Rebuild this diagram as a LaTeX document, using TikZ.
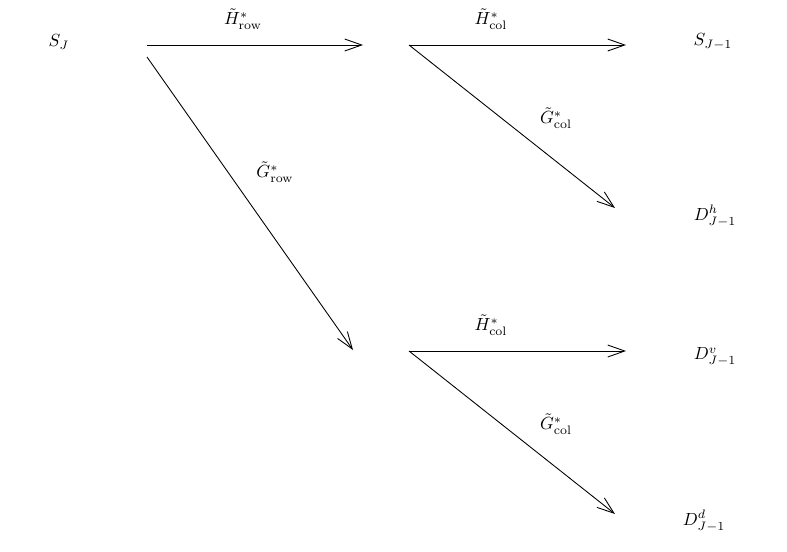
\documentclass[tikz,border=0pt]{standalone}
\usetikzlibrary{arrows.meta}
\begin{document}
\begin{tikzpicture}[x=0.02cm,y=-0.02cm,
  lbl/.style={inner sep=0pt},
  arr/.style={line width=0.5pt,-{Straight Barb[length=3.4mm,width=2.4mm]}}]
\useasboundingbox (0,0) rectangle (787,551);
% labels
\node[lbl] (sj) at (59,42) {$S_J$};
\node[lbl] (sj1) at (713,42) {$S_{J-1}$};
\node[lbl] (dh) at (715,216) {$D^h_{J-1}$};
\node[lbl] (dv) at (715,357) {$D^v_{J-1}$};
\node[lbl] (dd) at (704,521) {$D^d_{J-1}$};
% arrow end points
\coordinate (a0) at (147,45);
\coordinate (a1) at (363,45);
\coordinate (b0) at (147,57);
\coordinate (b1) at (353,350);
\coordinate (c0) at (409,45);
\coordinate (c1) at (626,45);
\coordinate (c2) at (615,208);
\coordinate (d0) at (409,351);
\coordinate (d1) at (626,351);
\coordinate (d2) at (615,514);
% arrows
\draw[arr] (a0) -- (a1);
\draw[arr] (b0) -- (b1);
\draw[arr] (c0) -- (c1);
\draw[arr] (c0) -- (c2);
\draw[arr] (d0) -- (d1);
\draw[arr] (d0) -- (d2);
% arrow labels
\node[lbl] (hrow) at (243,19) {$\tilde{H}^*_{\mathrm{row}}$};
\node[lbl] (grow) at (275,172) {$\tilde{G}^*_{\mathrm{row}}$};
\node[lbl] (hcol1) at (491,19) {$\tilde{H}^*_{\mathrm{col}}$};
\node[lbl] (gcol1) at (556,118) {$\tilde{G}^*_{\mathrm{col}}$};
\node[lbl] (hcol2) at (491,325) {$\tilde{H}^*_{\mathrm{col}}$};
\node[lbl] (gcol2) at (556,424) {$\tilde{G}^*_{\mathrm{col}}$};
\end{tikzpicture}
\end{document}
